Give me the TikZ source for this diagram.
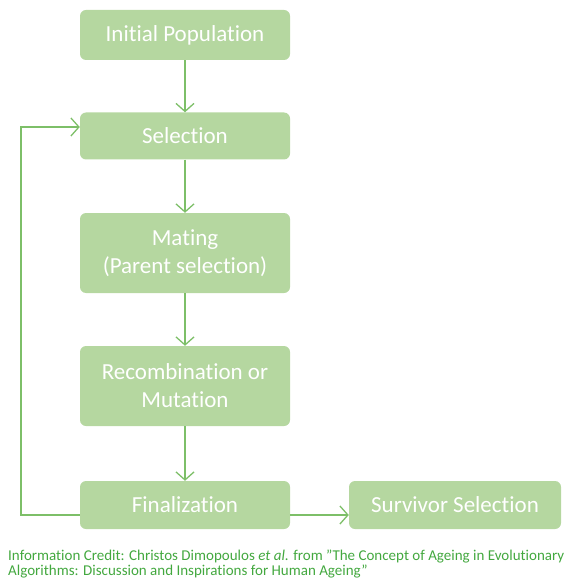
\documentclass[tikz,border=0pt]{standalone}
\usepackage{fontspec}
\setmainfont{Carlito}[Ligatures=NoCommon]
\usetikzlibrary{arrows.meta}
\definecolor{boxfill}{HTML}{B5D7A0}
\definecolor{linecol}{HTML}{7DBF68}
\definecolor{credit}{HTML}{43A83F}
\begin{document}
\begin{tikzpicture}[x=1pt,y=-1pt,
  box/.style={draw=none,fill=boxfill,rounded corners=6pt,text=white,font=\fontsize{23}{28}\selectfont,align=center,inner sep=0pt},
  conn/.style={draw=linecol,line width=1.3pt,-{Straight Barb[length=8pt,width=18pt,line width=1.3pt]}}]
\useasboundingbox (0,0) rectangle (580,580);
\node[box,minimum width=210pt,minimum height=50pt] (init) at (185,35) {Initial Population};
\node[box,minimum width=210pt,minimum height=47pt] (sel) at (185,136) {Selection};
\node[box,minimum width=210pt,minimum height=80pt] (mat) at (185,253) {Mating\\(Parent selection)};
\node[box,minimum width=210pt,minimum height=80pt] (rec) at (185,386) {Recombination or\\Mutation};
\node[box,minimum width=210pt,minimum height=48pt] (fin) at (185,505) {Finalization};
\node[box,minimum width=212pt,minimum height=48pt] (surv) at (455,505) {Survivor Selection};
\draw[conn] (init) -- (sel);
\draw[conn] (sel) -- (mat);
\draw[conn] (mat) -- (rec);
\draw[conn] (rec) -- (fin);
\coordinate (fl) at (fin.west |- 0,515);
\coordinate (sl) at (sel.west |- 0,127);
\draw[conn] (fl) -- (21,515) -- (21,127) -- (sl);
\draw[conn] (fl -| fin.east) -- (fl -| surv.west);
\node[anchor=base west,inner sep=0pt,text=credit,font=\fontsize{15}{14.5}\selectfont,align=left] (cred) at (8,575) {Information Credit: Christos Dimopoulos \textit{et al.} from "The Concept of Ageing in Evolutionary\\Algorithms: Discussion and Inspirations for Human Ageing"};
\end{tikzpicture}
\end{document}
